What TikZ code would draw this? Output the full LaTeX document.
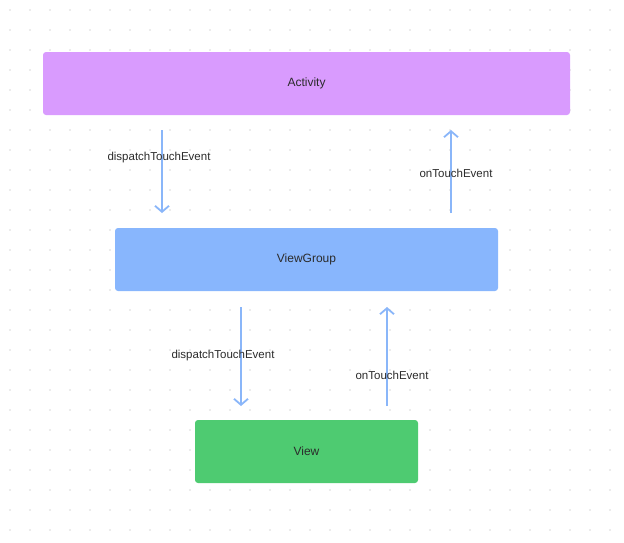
\documentclass[tikz,border=0pt]{standalone}
\usepackage{fontspec}
\setmainfont{Liberation Sans}
\usetikzlibrary{arrows.meta}
\definecolor{actfill}{HTML}{D99BFE}
\definecolor{grpfill}{HTML}{88B6FD}
\definecolor{viewfill}{HTML}{4ECB71}
\definecolor{flow}{HTML}{8AB6F9}
\definecolor{dotc}{HTML}{D8D8D8}
\definecolor{txt}{HTML}{2B2B2B}
\tikzset{
  box/.style={rounded corners=3pt, inner sep=0pt, text=txt, font=\fontsize{12}{14}\selectfont},
  flowarrow/.style={draw=flow, line width=1.8pt, -{Straight Barb[length=6pt,width=14pt,line width=1.8pt]}},
  lbl/.style={text=txt, font=\fontsize{11.5}{14}\selectfont}
}
\begin{document}
\begin{tikzpicture}[x=1pt,y=-1pt]
  \useasboundingbox (0,0) rectangle (624,542);
  % dotted background
  \foreach \i in {0,...,31} {
    \foreach \j in {0,...,27} {
      \fill[dotc] (10+20*\i,10+20*\j) circle (0.8);
    }
  }
  \node[box, fill=actfill, minimum width=527pt, minimum height=63pt] (activity) at (306.5,83.5) {Activity};
  \node[box, fill=grpfill, minimum width=383pt, minimum height=63pt] (viewgroup) at (306.5,259.5) {ViewGroup};
  \node[box, fill=viewfill, minimum width=223pt, minimum height=63pt] (view) at (306.5,451.5) {View};
  % Activity <-> ViewGroup
  \coordinate (a1) at (162,130); \coordinate (g1) at (162,213);
  \coordinate (g2) at (451,213); \coordinate (a2) at (451,130);
  \draw[flowarrow] (a1) -- (g1);
  \draw[flowarrow] (g2) -- (a2);
  \node[lbl] (dispatchtop) at (159,158) {dispatchTouchEvent};
  \node[lbl] (touchtop) at (456,173) {onTouchEvent};
  % ViewGroup <-> View
  \coordinate (g3) at (241,307); \coordinate (v1) at (241,406);
  \coordinate (v2) at (387,406); \coordinate (g4) at (387,307);
  \draw[flowarrow] (g3) -- (v1);
  \draw[flowarrow] (v2) -- (g4);
  \node[lbl] (dispatchbot) at (223,356) {dispatchTouchEvent};
  \node[lbl] (touchbot) at (392,375) {onTouchEvent};
\end{tikzpicture}
\end{document}
